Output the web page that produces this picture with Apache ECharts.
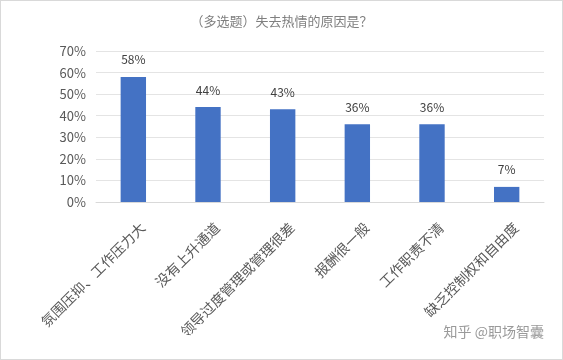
<!DOCTYPE html>
<html><head><meta charset="utf-8">
<script src="https://cdn.jsdelivr.net/npm/echarts@6/dist/echarts.min.js"></script>
<style>html,body{margin:0;padding:0;background:#fff}#c{width:561px;height:358px;border:1px solid #d9d9d9}</style>
</head><body><div id="c"></div>
<script>
const categories = ['氛围压抑、工作压力大','没有上升通道','领导过度管理或管理很差','报酬很一般','工作职责不清','缺乏控制权和自由度'];
const values = [58, 44, 43, 36, 36, 7];
const titleText = '（多选题）失去热情的原因是？';
const watermark = '知乎 @职场智囊';
const chart = echarts.init(document.getElementById('c'));
const font = '"Noto Sans CJK SC", "Microsoft YaHei", sans-serif';
chart.setOption({
  animation: false,
  title: {text: titleText, left: 'center', top: 9, textStyle: {fontFamily: font, fontSize: 13, fontWeight: 'normal', color: '#7f7f7f'}},
  grid: {left: 95, right: 18, top: 50, bottom: 157, containLabel: false},
  xAxis: {type: 'category', data: categories,
    axisLine: {lineStyle: {color: '#d9d9d9'}}, axisTick: {show: false},
    axisLabel: {rotate: 45, interval: 0, fontFamily: font, fontSize: 14, color: '#595959', margin: 14, verticalAlign: 'top', padding: [6, 0, 0, 0]}},
  yAxis: {type: 'value', min: 0, max: 70, interval: 10,
    axisLabel: {formatter: '{value}%', fontFamily: font, fontSize: 13, color: '#595959', margin: 10},
    axisLine: {show: false}, axisTick: {show: false},
    splitLine: {lineStyle: {color: '#e4e4e4'}}},
  series: [{type: 'bar', data: values, barWidth: '34%', itemStyle: {color: '#4472c4'},
    label: {show: true, position: 'top', distance: 11, formatter: '{c}%', fontFamily: font, fontSize: 12, color: '#404040'}}],
  graphic: [{type: 'text', right: 18, bottom: 20, style: {text: watermark, fontFamily: font, fontSize: 14, fill: '#9a9a9a'}}]
});
</script></body></html>
